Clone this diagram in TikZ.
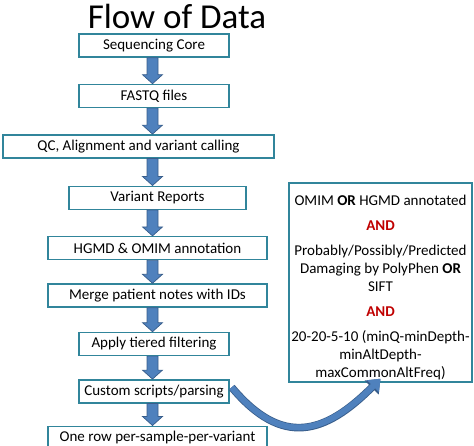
\documentclass[tikz,border=0pt]{standalone}
\usepackage{fontspec}
\setmainfont{Carlito}
\usetikzlibrary{positioning,calc,arrows.meta}
\definecolor{boxteal}{RGB}{49,133,155}
\definecolor{arrowblue}{RGB}{79,129,189}
\definecolor{arrowedge}{RGB}{56,93,138}
\definecolor{andred}{RGB}{192,0,0}

% block arrow straight down from #1 to #2
\newcommand{\blockarrow}[2]{%
  \path[block arrow] let \p1=(#1), \p2=(#2) in
    (\x1-5.5pt,\y1) -- (\x1-5.5pt,\y2+9pt) -- (\x1-10pt,\y2+9pt) -- (\x1,\y2)
    -- (\x1+10pt,\y2+9pt) -- (\x1+5.5pt,\y2+9pt) -- (\x1+5.5pt,\y1) -- cycle;}

\begin{document}
\begin{tikzpicture}[x=1pt,y=-1pt,
  flow box/.style={draw=boxteal,line width=1.4pt,fill=white,minimum height=23pt,
    inner sep=0pt,font=\fontsize{15}{17}\selectfont},
  crit box/.style={draw=boxteal,line width=1.4pt,fill=white,minimum width=183pt,
    minimum height=199pt,text width=180pt,align=flush center,inner sep=0pt,
    font=\fontsize{15}{18}\selectfont},
  block arrow/.style={fill=arrowblue,draw=arrowedge,line width=0.7pt},
  curve arrow/.style={draw=arrowblue,line width=6pt,-{Triangle[width=16pt,length=10.5pt]},
    preaction={draw=arrowedge,line width=7.6pt,-{Triangle[width=19pt,length=12.5pt]}}}]

  \useasboundingbox (0,0) rectangle (474,445);

  \node[font=\fontsize{35}{37}\selectfont] (title) at (177,16) {Flow of Data};

  \node[flow box,minimum width=150pt] (seq) at (154,45.5) {Sequencing Core};
  \node[flow box,minimum width=150pt] (fastq) [below=26pt of seq] {FASTQ files};
  \node[flow box,minimum width=271pt] (qc) [below=26pt of fastq,xshift=-15.5pt] {QC, Alignment and variant calling};
  \node[flow box,minimum width=177pt] (report) [below=27pt of qc,xshift=19pt] {Variant Reports};
  \node[flow box,minimum width=219pt] (annot) [below=26pt of report] {HGMD \& OMIM annotation};
  \node[flow box,minimum width=219pt] (merge) [below=23pt of annot] {Merge patient notes with IDs};
  \node[flow box,minimum width=150pt] (tiered) [below=24pt of merge,xshift=-3.5pt] {Apply tiered filtering};
  \node[flow box,minimum width=150pt] (custom) [below=23pt of tiered] {Custom scripts/parsing};
  \node[flow box,minimum width=219pt] (onerow) [below=22pt of custom,xshift=3.5pt] {One row per-sample-per-variant};

  \node[crit box] (crit) at (380.5,282.5) {%
    \rule{0pt}{20pt}OMIM \textbf{OR} HGMD annotated\\[7pt]
    \textcolor{andred}{\textbf{AND}}\\[7pt]
    Probably/Possibly/Predicted\\
    Damaging by PolyPhen \textbf{OR}\\
    SIFT\\[7pt]
    \textcolor{andred}{\textbf{AND}}\\[7pt]
    20-20-5-10 (minQ-minDepth-\\
    minAltDepth-\\
    maxCommonAltFreq)};

  % down arrows
  \coordinate (axis) at (152.5,0);
  \blockarrow{seq.south -| axis}{fastq.north -| axis}
  \blockarrow{fastq.south -| axis}{qc.north -| axis}
  \blockarrow{qc.south -| axis}{report.north -| axis}
  \blockarrow{report.south -| axis}{annot.north -| axis}
  \blockarrow{annot.south -| axis}{merge.north -| axis}
  \blockarrow{merge.south -| axis}{tiered.north -| axis}
  \blockarrow{tiered.south -| axis}{custom.north -| axis}
  \blockarrow{custom.south -| axis}{onerow.north -| axis}

  \draw[curve arrow] ([xshift=2pt,yshift=4pt]custom.east) to[out=-50,in=-135,looseness=1.35] ([yshift=4pt]crit.south);

\end{tikzpicture}
\end{document}
